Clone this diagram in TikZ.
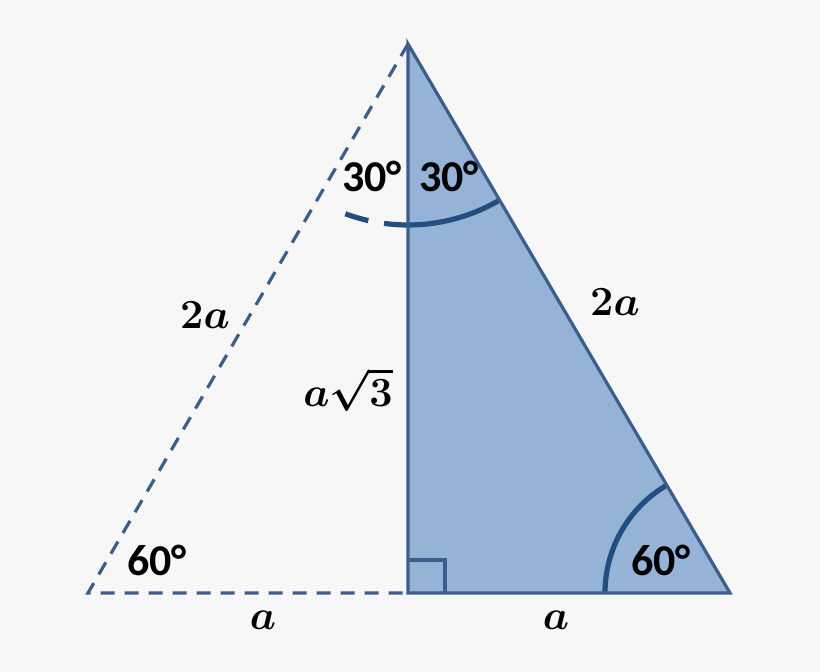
\documentclass[tikz,border=0pt]{standalone}
\usepackage{amsmath}
\usepackage{amssymb}
\usepackage{fontspec}
\usepackage{tikz}
\usetikzlibrary{positioning}
\usepackage{xcolor}
\newfontfamily\anglefont{Carlito}
\definecolor{bgray}{HTML}{F7F7F7}
\definecolor{tfill}{HTML}{95B3D7}
\definecolor{tline}{HTML}{3B5E8C}
\definecolor{tarc}{HTML}{244E80}
\newcommand\anglab[1]{{\anglefont\bfseries\fontsize{22}{24}\selectfont #1\textdegree}}
\newcommand\sidelab[1]{{\fontsize{21}{24}\selectfont\boldmath $#1$}}

\begin{document}
\begin{tikzpicture}[x=0.5pt, y=0.5pt,
    edge/.style={tline, line width=1.6pt},
    dashedge/.style={tline, line width=1.6pt, dash pattern=on 7pt off 5pt},
    angarc/.style={tarc, line width=2.6pt},
    lab/.style={inner sep=0pt}]
        \fill[bgray] (0,0) rectangle (820,672);
        \useasboundingbox (0,0) rectangle (820,672);
        \coordinate (apex) at (408,628);
        \coordinate (foot) at (408,79);
        \coordinate (right) at (730,79);
        \coordinate (left) at (88,79);
        % shaded half
        \fill[tfill] (apex)--(foot)--(right)--cycle;
        % right angle mark
        \draw[edge] (foot) ++(0,33) -- ++(37,0) -- ++(0,-33);
        % angle arcs
        \draw[angarc] (apex) ++(-90:181) arc[start angle=-90, end angle=-59.6, radius=181];
        \draw[angarc, dash pattern=on 12pt off 8pt] (apex) ++(-90:181) arc[start angle=-90, end angle=-114, radius=181];
        \draw[angarc] (right) ++(180:125) arc[start angle=180, end angle=120.4, radius=125];
        % outline
        \draw[edge, line join=miter] (foot)--(apex)--(right)--cycle;
        \draw[dashedge] (apex)--(left)--(foot);
        % labels
        \node[lab] (a30l) at (372,496) {\anglab{30}};
        \node[lab] (a30r) at (449,496) {\anglab{30}};
        \node[lab] (a60l) at (157,112) {\anglab{60}};
        \node[lab] (a60r) at (661,112) {\anglab{60}};
        \node[lab] (s2l) at (205,357) {\sidelab{2a}};
        \node[lab] (s2r) at (615,370) {\sidelab{2a}};
        \node[lab] (sh) at (348,282) {\sidelab{a\sqrt{3}}};
        \node[lab] (sbl) at (263,52) {\sidelab{a}};
        \node[lab] (sbr) at (556,52) {\sidelab{a}};
\end{tikzpicture}
\end{document}
